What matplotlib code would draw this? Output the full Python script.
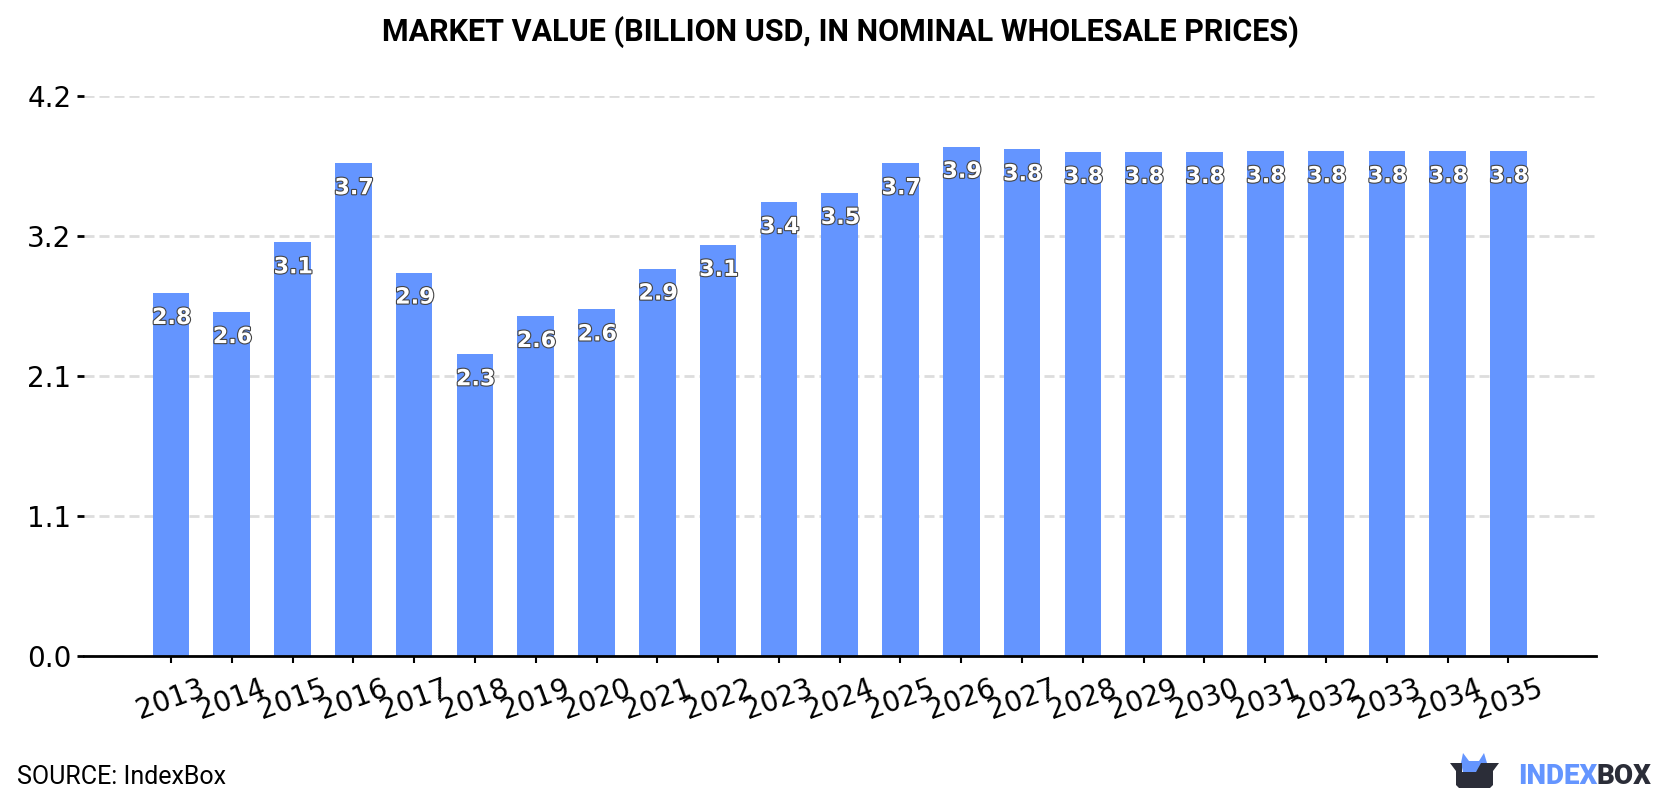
import matplotlib
matplotlib.use('Agg')
import matplotlib.pyplot as plt
import matplotlib.patheffects as pe
from matplotlib.patches import Polygon

# Valores del mercado por año
anios = ['2013', '2014', '2015', '2016', '2017', '2018', '2019', '2020', '2021', '2022', '2023', '2024',
         '2025', '2026', '2027', '2028', '2029', '2030', '2031', '2032', '2033', '2034', '2035']
valores = [2.755, 2.61, 3.14, 3.74, 2.91, 2.29, 2.58, 2.63, 2.94, 3.12, 3.445, 3.515,
           3.74, 3.865, 3.845, 3.825, 3.825, 3.825, 3.83, 3.83, 3.83, 3.83, 3.83]
marcas_y = [0.0, 1.0625, 2.125, 3.1875, 4.25]
etiquetas_y = ['0.0', '1.1', '2.1', '3.2', '4.2']

AZUL = '#6495ff'
OSCURO = '#2b2d38'

fig = plt.figure(figsize=(16.8, 8), dpi=100)
ax = fig.add_axes([84 / 1680, 1 - 656 / 800, (1596 - 84) / 1680, 560 / 800])

posiciones = list(range(len(anios)))
ax.bar(posiciones, valores, width=0.6, color=AZUL, zorder=2)

# Etiquetas de cada barra
for x, v in zip(posiciones, valores):
    ax.annotate(f'{v:.1f}', (x, v), xytext=(0.5, -18), textcoords='offset points',
                ha='center', va='center', fontsize=16, fontweight='bold', color='white', zorder=3,
                path_effects=[pe.withStroke(linewidth=1.6, foreground='#444444')])

ax.set_xlim(-1.43, 23.44)
ax.set_ylim(0, 4.25)
ax.set_xticks(posiciones)
ax.set_xticklabels(anios, rotation=20, fontsize=20)
ax.set_yticks(marcas_y)
ax.set_yticklabels(etiquetas_y, fontsize=20)
ax.tick_params(axis='y', length=5, width=2, pad=4)
ax.tick_params(axis='x', length=5, width=1.5, pad=8)
ax.grid(axis='y', color='#dddddd', linewidth=2, dashes=(3.6, 1.8), zorder=1)
ax.set_axisbelow(True)

for lado in ['top', 'left', 'right']:
    ax.spines[lado].set_visible(False)
ax.spines['bottom'].set_linewidth(2)

fig.text(840 / 1680, 1 - 32 / 800, 'MARKET VALUE (BILLION USD, IN NOMINAL WHOLESALE PRICES)', ha='center', va='center',
         fontsize=22, fontweight='bold', family='Roboto', color='black')
fig.text(17 / 1680, 1 - 777 / 800, 'SOURCE: IndexBox', ha='left', va='center', fontsize=18, family='Roboto',
         color='black')

# Logo
fig.text(1597 / 1680, 1 - 777 / 800, 'INDEX', ha='right', va='center', fontsize=20, fontweight='black',
         family='Roboto', color=AZUL)
fig.text(1597 / 1680, 1 - 777 / 800, 'BOX', ha='left', va='center', fontsize=20, fontweight='black',
         family='Roboto', color=OSCURO)


def poligono(puntos, color):
    fig.add_artist(Polygon([(x / 1680, 1 - y / 800) for x, y in puntos], closed=True, color=color,
                           transform=fig.transFigure, lw=0))


poligono([(1461, 763), (1463, 753), (1469, 761), (1479, 761), (1484, 753), (1487, 763), (1484, 771), (1475, 772),
          (1472, 772), (1463, 772)], AZUL)
poligono([(1450, 763), (1462, 763), (1462, 772), (1476, 772), (1481, 763), (1499, 763), (1493, 771), (1493, 785),
          (1490, 788), (1459, 788), (1456, 785), (1456, 771)], OSCURO)

fig.savefig('out.png', dpi=100)
